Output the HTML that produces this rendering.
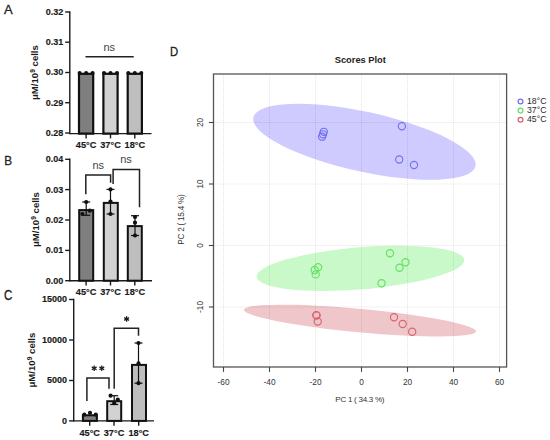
<!DOCTYPE html>
<html><head><meta charset="utf-8"><style>
html,body{margin:0;padding:0;background:#fff;}
svg{display:block;font-family:"Liberation Sans", sans-serif;}
</style></head><body>
<svg width="550" height="440" viewBox="0 0 550 440">
<rect width="550" height="440" fill="#fff"/>
<text transform="translate(4.00,13.75) scale(1.0,1)" font-size="13.0" fill="#222" stroke="#222" stroke-width="0.3">A</text>
<text transform="translate(4.20,164.70) scale(0.88,1)" font-size="13.4" fill="#222" stroke="#222" stroke-width="0.3">B</text>
<text transform="translate(4.00,300.00) scale(0.83,1)" font-size="14.0" fill="#222" stroke="#222" stroke-width="0.3">C</text>
<text transform="translate(170.00,56.10) scale(0.88,1)" font-size="12.8" fill="#222" stroke="#222" stroke-width="0.3">D</text>
<line x1="69.80" y1="11.30" x2="69.80" y2="134.30" stroke="#1a1a1a" stroke-width="1.4" />
<line x1="65.20" y1="12.00" x2="69.80" y2="12.00" stroke="#1a1a1a" stroke-width="1.4" />
<text x="63.20" y="14.90" font-size="9.0" text-anchor="end" font-weight="bold" fill="#1a1a1a" stroke="#1a1a1a" stroke-width="0.15">0.32</text>
<line x1="65.20" y1="42.20" x2="69.80" y2="42.20" stroke="#1a1a1a" stroke-width="1.4" />
<text x="63.20" y="45.10" font-size="9.0" text-anchor="end" font-weight="bold" fill="#1a1a1a" stroke="#1a1a1a" stroke-width="0.15">0.31</text>
<line x1="65.20" y1="72.50" x2="69.80" y2="72.50" stroke="#1a1a1a" stroke-width="1.4" />
<text x="63.20" y="75.40" font-size="9.0" text-anchor="end" font-weight="bold" fill="#1a1a1a" stroke="#1a1a1a" stroke-width="0.15">0.30</text>
<line x1="65.20" y1="102.70" x2="69.80" y2="102.70" stroke="#1a1a1a" stroke-width="1.4" />
<text x="63.20" y="105.60" font-size="9.0" text-anchor="end" font-weight="bold" fill="#1a1a1a" stroke="#1a1a1a" stroke-width="0.15">0.29</text>
<line x1="65.20" y1="133.00" x2="69.80" y2="133.00" stroke="#1a1a1a" stroke-width="1.4" />
<text x="63.20" y="135.90" font-size="9.0" text-anchor="end" font-weight="bold" fill="#1a1a1a" stroke="#1a1a1a" stroke-width="0.15">0.28</text>
<line x1="69.80" y1="133.60" x2="151.50" y2="133.60" stroke="#1a1a1a" stroke-width="1.4" />
<line x1="86.10" y1="133.60" x2="86.10" y2="138.40" stroke="#1a1a1a" stroke-width="1.4" />
<text x="86.10" y="148.30" font-size="9.2" text-anchor="middle" font-weight="bold" fill="#1a1a1a" stroke="#1a1a1a" stroke-width="0.15">45&#176;C</text>
<line x1="110.50" y1="133.60" x2="110.50" y2="138.40" stroke="#1a1a1a" stroke-width="1.4" />
<text x="110.50" y="148.30" font-size="9.2" text-anchor="middle" font-weight="bold" fill="#1a1a1a" stroke="#1a1a1a" stroke-width="0.15">37&#176;C</text>
<line x1="134.80" y1="133.60" x2="134.80" y2="138.40" stroke="#1a1a1a" stroke-width="1.4" />
<text x="134.80" y="148.30" font-size="9.2" text-anchor="middle" font-weight="bold" fill="#1a1a1a" stroke="#1a1a1a" stroke-width="0.15">18&#176;C</text>
<text transform="translate(38.00,72.60) rotate(-90)" font-size="9.5" font-weight="bold" fill="#1a1a1a" text-anchor="middle">&#956;M/10<tspan font-size="6.6" dy="-3.1" dx="0.3">9</tspan><tspan dy="3.1"> cells</tspan></text>
<rect x="79.00" y="73.8" width="14.2" height="59.80" fill="#7f7f7f" stroke="#111" stroke-width="2.2"/>
<circle cx="79.60" cy="73.0" r="2.0" fill="#111"/>
<circle cx="86.10" cy="73.0" r="2.0" fill="#111"/>
<circle cx="92.60" cy="73.0" r="2.0" fill="#111"/>
<rect x="103.40" y="73.8" width="14.2" height="59.80" fill="#d2d2d2" stroke="#111" stroke-width="2.2"/>
<circle cx="104.00" cy="73.0" r="2.0" fill="#111"/>
<circle cx="110.50" cy="73.0" r="2.0" fill="#111"/>
<circle cx="117.00" cy="73.0" r="2.0" fill="#111"/>
<rect x="127.70" y="73.8" width="14.2" height="59.80" fill="#bebebe" stroke="#111" stroke-width="2.2"/>
<circle cx="128.30" cy="73.0" r="2.0" fill="#111"/>
<circle cx="134.80" cy="73.0" r="2.0" fill="#111"/>
<circle cx="141.30" cy="73.0" r="2.0" fill="#111"/>
<line x1="85.50" y1="56.80" x2="133.70" y2="56.80" stroke="#222" stroke-width="1.6" />
<text x="109.20" y="51.00" font-size="11.0" text-anchor="middle" font-weight="normal" fill="#444" >ns</text>
<line x1="69.80" y1="158.60" x2="69.80" y2="281.40" stroke="#1a1a1a" stroke-width="1.4" />
<line x1="65.20" y1="159.30" x2="69.80" y2="159.30" stroke="#1a1a1a" stroke-width="1.4" />
<text x="63.20" y="162.20" font-size="9.0" text-anchor="end" font-weight="bold" fill="#1a1a1a" stroke="#1a1a1a" stroke-width="0.15">0.04</text>
<line x1="65.20" y1="189.60" x2="69.80" y2="189.60" stroke="#1a1a1a" stroke-width="1.4" />
<text x="63.20" y="192.50" font-size="9.0" text-anchor="end" font-weight="bold" fill="#1a1a1a" stroke="#1a1a1a" stroke-width="0.15">0.03</text>
<line x1="65.20" y1="220.00" x2="69.80" y2="220.00" stroke="#1a1a1a" stroke-width="1.4" />
<text x="63.20" y="222.90" font-size="9.0" text-anchor="end" font-weight="bold" fill="#1a1a1a" stroke="#1a1a1a" stroke-width="0.15">0.02</text>
<line x1="65.20" y1="250.40" x2="69.80" y2="250.40" stroke="#1a1a1a" stroke-width="1.4" />
<text x="63.20" y="253.30" font-size="9.0" text-anchor="end" font-weight="bold" fill="#1a1a1a" stroke="#1a1a1a" stroke-width="0.15">0.01</text>
<line x1="65.20" y1="280.70" x2="69.80" y2="280.70" stroke="#1a1a1a" stroke-width="1.4" />
<text x="63.20" y="283.60" font-size="9.0" text-anchor="end" font-weight="bold" fill="#1a1a1a" stroke="#1a1a1a" stroke-width="0.15">0.00</text>
<line x1="69.80" y1="280.70" x2="152.00" y2="280.70" stroke="#1a1a1a" stroke-width="1.4" />
<line x1="86.10" y1="280.70" x2="86.10" y2="285.50" stroke="#1a1a1a" stroke-width="1.4" />
<text x="86.10" y="295.20" font-size="9.2" text-anchor="middle" font-weight="bold" fill="#1a1a1a" stroke="#1a1a1a" stroke-width="0.15">45&#176;C</text>
<line x1="110.50" y1="280.70" x2="110.50" y2="285.50" stroke="#1a1a1a" stroke-width="1.4" />
<text x="110.50" y="295.20" font-size="9.2" text-anchor="middle" font-weight="bold" fill="#1a1a1a" stroke="#1a1a1a" stroke-width="0.15">37&#176;C</text>
<line x1="134.80" y1="280.70" x2="134.80" y2="285.50" stroke="#1a1a1a" stroke-width="1.4" />
<text x="134.80" y="295.20" font-size="9.2" text-anchor="middle" font-weight="bold" fill="#1a1a1a" stroke="#1a1a1a" stroke-width="0.15">18&#176;C</text>
<text transform="translate(38.80,219.60) rotate(-90)" font-size="9.5" font-weight="bold" fill="#1a1a1a" text-anchor="middle">&#956;M/10<tspan font-size="6.6" dy="-3.1" dx="0.3">9</tspan><tspan dy="3.1"> cells</tspan></text>
<rect x="79.20" y="210.10" width="14.0" height="70.60" fill="#7f7f7f" stroke="#111" stroke-width="2.0"/>
<rect x="103.80" y="202.90" width="14.0" height="77.80" fill="#d2d2d2" stroke="#111" stroke-width="2.0"/>
<rect x="127.80" y="226.10" width="14.0" height="54.60" fill="#bebebe" stroke="#111" stroke-width="2.0"/>
<line x1="86.20" y1="202.00" x2="86.20" y2="215.30" stroke="#111" stroke-width="1.2" />
<line x1="82.20" y1="202.00" x2="90.20" y2="202.00" stroke="#111" stroke-width="1.2" />
<line x1="82.20" y1="215.30" x2="90.20" y2="215.30" stroke="#111" stroke-width="1.2" />
<circle cx="86.20" cy="202.00" r="2.1" fill="#111"/>
<circle cx="82.40" cy="214.00" r="2.1" fill="#111"/>
<circle cx="89.80" cy="210.70" r="2.1" fill="#111"/>
<line x1="110.50" y1="189.40" x2="110.50" y2="214.00" stroke="#111" stroke-width="1.2" />
<line x1="106.50" y1="189.40" x2="114.50" y2="189.40" stroke="#111" stroke-width="1.2" />
<line x1="106.50" y1="214.00" x2="114.50" y2="214.00" stroke="#111" stroke-width="1.2" />
<circle cx="110.50" cy="189.40" r="2.1" fill="#111"/>
<circle cx="110.50" cy="201.50" r="2.1" fill="#111"/>
<circle cx="110.50" cy="214.00" r="2.1" fill="#111"/>
<line x1="135.00" y1="215.70" x2="135.00" y2="235.50" stroke="#111" stroke-width="1.2" />
<line x1="131.00" y1="215.70" x2="139.00" y2="215.70" stroke="#111" stroke-width="1.2" />
<line x1="131.00" y1="235.50" x2="139.00" y2="235.50" stroke="#111" stroke-width="1.2" />
<circle cx="135.00" cy="217.00" r="2.1" fill="#111"/>
<circle cx="135.00" cy="222.70" r="2.1" fill="#111"/>
<circle cx="135.00" cy="235.50" r="2.1" fill="#111"/>
<polyline points="85.8,194.3 85.8,174.9 110.6,174.9 110.6,182.7" fill="none" stroke="#222" stroke-width="1.5"/>
<polyline points="113.1,184.0 113.1,169.4 139.5,169.4 139.5,207.3" fill="none" stroke="#222" stroke-width="1.5"/>
<text x="98.20" y="169.40" font-size="11.0" text-anchor="middle" font-weight="normal" fill="#444" >ns</text>
<text x="126.00" y="163.30" font-size="11.0" text-anchor="middle" font-weight="normal" fill="#444" >ns</text>
<line x1="73.70" y1="298.80" x2="73.70" y2="421.60" stroke="#1a1a1a" stroke-width="1.4" />
<line x1="69.10" y1="299.50" x2="73.70" y2="299.50" stroke="#1a1a1a" stroke-width="1.4" />
<text x="67.10" y="302.40" font-size="9.0" text-anchor="end" font-weight="bold" fill="#1a1a1a" stroke="#1a1a1a" stroke-width="0.15">15000</text>
<line x1="69.10" y1="340.00" x2="73.70" y2="340.00" stroke="#1a1a1a" stroke-width="1.4" />
<text x="67.10" y="342.90" font-size="9.0" text-anchor="end" font-weight="bold" fill="#1a1a1a" stroke="#1a1a1a" stroke-width="0.15">10000</text>
<line x1="69.10" y1="380.50" x2="73.70" y2="380.50" stroke="#1a1a1a" stroke-width="1.4" />
<text x="67.10" y="383.40" font-size="9.0" text-anchor="end" font-weight="bold" fill="#1a1a1a" stroke="#1a1a1a" stroke-width="0.15">5000</text>
<line x1="69.10" y1="420.90" x2="73.70" y2="420.90" stroke="#1a1a1a" stroke-width="1.4" />
<text x="67.10" y="423.80" font-size="9.0" text-anchor="end" font-weight="bold" fill="#1a1a1a" stroke="#1a1a1a" stroke-width="0.15">0</text>
<line x1="73.70" y1="420.90" x2="154.00" y2="420.90" stroke="#1a1a1a" stroke-width="1.4" />
<line x1="89.70" y1="420.90" x2="89.70" y2="425.70" stroke="#1a1a1a" stroke-width="1.4" />
<text x="89.70" y="436.30" font-size="9.2" text-anchor="middle" font-weight="bold" fill="#1a1a1a" stroke="#1a1a1a" stroke-width="0.15">45&#176;C</text>
<line x1="114.00" y1="420.90" x2="114.00" y2="425.70" stroke="#1a1a1a" stroke-width="1.4" />
<text x="114.00" y="436.30" font-size="9.2" text-anchor="middle" font-weight="bold" fill="#1a1a1a" stroke="#1a1a1a" stroke-width="0.15">37&#176;C</text>
<line x1="138.70" y1="420.90" x2="138.70" y2="425.70" stroke="#1a1a1a" stroke-width="1.4" />
<text x="138.70" y="436.30" font-size="9.2" text-anchor="middle" font-weight="bold" fill="#1a1a1a" stroke="#1a1a1a" stroke-width="0.15">18&#176;C</text>
<text transform="translate(35.30,360.10) rotate(-90)" font-size="9.5" font-weight="bold" fill="#1a1a1a" text-anchor="middle">&#956;M/10<tspan font-size="6.6" dy="-3.1" dx="0.3">9</tspan><tspan dy="3.1"> cells</tspan></text>
<rect x="82.90" y="415.30" width="14.0" height="5.60" fill="#7f7f7f" stroke="#111" stroke-width="2.0"/>
<rect x="107.20" y="401.20" width="14.0" height="19.70" fill="#d2d2d2" stroke="#111" stroke-width="2.0"/>
<rect x="132.00" y="364.90" width="14.0" height="56.00" fill="#bebebe" stroke="#111" stroke-width="2.0"/>
<line x1="138.50" y1="343.00" x2="138.50" y2="383.20" stroke="#111" stroke-width="1.2" />
<line x1="134.50" y1="343.00" x2="142.50" y2="343.00" stroke="#111" stroke-width="1.2" />
<line x1="134.50" y1="383.20" x2="142.50" y2="383.20" stroke="#111" stroke-width="1.2" />
<circle cx="138.50" cy="343.00" r="2.1" fill="#111"/>
<circle cx="138.50" cy="363.40" r="2.1" fill="#111"/>
<circle cx="138.50" cy="383.20" r="2.1" fill="#111"/>
<line x1="114.20" y1="395.70" x2="114.20" y2="404.50" stroke="#111" stroke-width="1.2" />
<line x1="110.20" y1="395.70" x2="118.20" y2="395.70" stroke="#111" stroke-width="1.2" />
<line x1="110.20" y1="404.50" x2="118.20" y2="404.50" stroke="#111" stroke-width="1.2" />
<circle cx="110.60" cy="395.70" r="2.1" fill="#111"/>
<circle cx="117.80" cy="399.50" r="2.1" fill="#111"/>
<circle cx="114.20" cy="403.20" r="2.1" fill="#111"/>
<circle cx="90.00" cy="412.90" r="2.1" fill="#111"/>
<circle cx="84.30" cy="414.60" r="2.1" fill="#111"/>
<circle cx="95.80" cy="414.60" r="2.1" fill="#111"/>
<polyline points="86.9,401.0 86.9,377.9 109.0,377.9 109.0,388.8" fill="none" stroke="#222" stroke-width="1.5"/>
<polyline points="114.2,388.8 114.2,328.2 138.5,328.2 138.5,335.8" fill="none" stroke="#222" stroke-width="1.5"/>
<line x1="94.20" y1="365.50" x2="94.20" y2="371.10" stroke="#1a1a1a" stroke-width="1.25" />
<line x1="91.78" y1="366.90" x2="96.62" y2="369.70" stroke="#1a1a1a" stroke-width="1.25" />
<line x1="91.78" y1="369.70" x2="96.62" y2="366.90" stroke="#1a1a1a" stroke-width="1.25" />
<line x1="101.80" y1="365.50" x2="101.80" y2="371.10" stroke="#1a1a1a" stroke-width="1.25" />
<line x1="99.38" y1="366.90" x2="104.22" y2="369.70" stroke="#1a1a1a" stroke-width="1.25" />
<line x1="99.38" y1="369.70" x2="104.22" y2="366.90" stroke="#1a1a1a" stroke-width="1.25" />
<line x1="126.60" y1="316.20" x2="126.60" y2="321.80" stroke="#1a1a1a" stroke-width="1.25" />
<line x1="124.18" y1="317.60" x2="129.02" y2="320.40" stroke="#1a1a1a" stroke-width="1.25" />
<line x1="124.18" y1="320.40" x2="129.02" y2="317.60" stroke="#1a1a1a" stroke-width="1.25" />
<ellipse cx="364.40" cy="141.80" rx="113.70" ry="29.90" transform="rotate(12.40 364.40 141.80)" fill="#cfcbff"/>
<ellipse cx="360.50" cy="268.30" rx="104.20" ry="21.00" transform="rotate(-4.70 360.50 268.30)" fill="#c9f9c9"/>
<ellipse cx="360.00" cy="320.60" rx="116.60" ry="11.70" transform="rotate(5.35 360.00 320.60)" fill="#efc6ca"/>
<line x1="223.50" y1="74.00" x2="223.50" y2="367.00" stroke="#000" stroke-width="0.8" stroke-opacity="0.13" stroke-dasharray="1,1"/>
<line x1="269.50" y1="74.00" x2="269.50" y2="367.00" stroke="#000" stroke-width="0.8" stroke-opacity="0.13" stroke-dasharray="1,1"/>
<line x1="315.50" y1="74.00" x2="315.50" y2="367.00" stroke="#000" stroke-width="0.8" stroke-opacity="0.13" stroke-dasharray="1,1"/>
<line x1="361.50" y1="74.00" x2="361.50" y2="367.00" stroke="#000" stroke-width="0.8" stroke-opacity="0.13" stroke-dasharray="1,1"/>
<line x1="407.50" y1="74.00" x2="407.50" y2="367.00" stroke="#000" stroke-width="0.8" stroke-opacity="0.13" stroke-dasharray="1,1"/>
<line x1="453.50" y1="74.00" x2="453.50" y2="367.00" stroke="#000" stroke-width="0.8" stroke-opacity="0.13" stroke-dasharray="1,1"/>
<line x1="499.50" y1="74.00" x2="499.50" y2="367.00" stroke="#000" stroke-width="0.8" stroke-opacity="0.13" stroke-dasharray="1,1"/>
<line x1="213.50" y1="122.50" x2="506.60" y2="122.50" stroke="#000" stroke-width="0.8" stroke-opacity="0.13" stroke-dasharray="1,1"/>
<line x1="213.50" y1="184.00" x2="506.60" y2="184.00" stroke="#000" stroke-width="0.8" stroke-opacity="0.13" stroke-dasharray="1,1"/>
<line x1="213.50" y1="245.50" x2="506.60" y2="245.50" stroke="#000" stroke-width="0.8" stroke-opacity="0.13" stroke-dasharray="1,1"/>
<line x1="213.50" y1="307.00" x2="506.60" y2="307.00" stroke="#000" stroke-width="0.8" stroke-opacity="0.13" stroke-dasharray="1,1"/>
<circle cx="323.80" cy="131.80" r="3.6" fill="none" stroke="#7272ee" stroke-width="1.15"/>
<circle cx="323.00" cy="134.30" r="3.6" fill="none" stroke="#7272ee" stroke-width="1.15"/>
<circle cx="322.10" cy="136.70" r="3.6" fill="none" stroke="#7272ee" stroke-width="1.15"/>
<circle cx="401.90" cy="126.20" r="3.6" fill="none" stroke="#7272ee" stroke-width="1.15"/>
<circle cx="399.20" cy="159.50" r="3.6" fill="none" stroke="#7272ee" stroke-width="1.15"/>
<circle cx="414.00" cy="165.00" r="3.6" fill="none" stroke="#7272ee" stroke-width="1.15"/>
<circle cx="318.10" cy="267.30" r="3.6" fill="none" stroke="#62e262" stroke-width="1.15"/>
<circle cx="314.70" cy="270.00" r="3.6" fill="none" stroke="#62e262" stroke-width="1.15"/>
<circle cx="315.70" cy="274.40" r="3.6" fill="none" stroke="#62e262" stroke-width="1.15"/>
<circle cx="390.00" cy="253.20" r="3.6" fill="none" stroke="#62e262" stroke-width="1.15"/>
<circle cx="405.50" cy="262.30" r="3.6" fill="none" stroke="#62e262" stroke-width="1.15"/>
<circle cx="399.50" cy="267.70" r="3.6" fill="none" stroke="#62e262" stroke-width="1.15"/>
<circle cx="381.50" cy="283.20" r="3.6" fill="none" stroke="#62e262" stroke-width="1.15"/>
<circle cx="316.30" cy="315.10" r="3.6" fill="none" stroke="#d9646f" stroke-width="1.15"/>
<circle cx="316.60" cy="315.60" r="3.6" fill="none" stroke="#d9646f" stroke-width="1.15"/>
<circle cx="317.70" cy="321.50" r="3.6" fill="none" stroke="#d9646f" stroke-width="1.15"/>
<circle cx="394.00" cy="317.30" r="3.6" fill="none" stroke="#d9646f" stroke-width="1.15"/>
<circle cx="402.70" cy="324.00" r="3.6" fill="none" stroke="#d9646f" stroke-width="1.15"/>
<circle cx="412.20" cy="331.80" r="3.6" fill="none" stroke="#d9646f" stroke-width="1.15"/>
<rect x="213.50" y="74.00" width="293.10" height="293.00" fill="none" stroke="#555" stroke-width="1.3"/>
<line x1="223.50" y1="367.00" x2="223.50" y2="371.90" stroke="#444" stroke-width="1.1" />
<text x="223.50" y="384.50" font-size="8.3" text-anchor="middle" font-weight="normal" fill="#333" >-60</text>
<line x1="269.50" y1="367.00" x2="269.50" y2="371.90" stroke="#444" stroke-width="1.1" />
<text x="269.50" y="384.50" font-size="8.3" text-anchor="middle" font-weight="normal" fill="#333" >-40</text>
<line x1="315.50" y1="367.00" x2="315.50" y2="371.90" stroke="#444" stroke-width="1.1" />
<text x="315.50" y="384.50" font-size="8.3" text-anchor="middle" font-weight="normal" fill="#333" >-20</text>
<line x1="361.50" y1="367.00" x2="361.50" y2="371.90" stroke="#444" stroke-width="1.1" />
<text x="361.50" y="384.50" font-size="8.3" text-anchor="middle" font-weight="normal" fill="#333" >0</text>
<line x1="407.50" y1="367.00" x2="407.50" y2="371.90" stroke="#444" stroke-width="1.1" />
<text x="407.50" y="384.50" font-size="8.3" text-anchor="middle" font-weight="normal" fill="#333" >20</text>
<line x1="453.50" y1="367.00" x2="453.50" y2="371.90" stroke="#444" stroke-width="1.1" />
<text x="453.50" y="384.50" font-size="8.3" text-anchor="middle" font-weight="normal" fill="#333" >40</text>
<line x1="499.50" y1="367.00" x2="499.50" y2="371.90" stroke="#444" stroke-width="1.1" />
<text x="499.50" y="384.50" font-size="8.3" text-anchor="middle" font-weight="normal" fill="#333" >60</text>
<line x1="208.90" y1="122.50" x2="213.50" y2="122.50" stroke="#444" stroke-width="1.1" />
<text transform="translate(203.40,122.50) rotate(-90)" font-size="8.3" text-anchor="middle" fill="#333">20</text>
<line x1="208.90" y1="184.00" x2="213.50" y2="184.00" stroke="#444" stroke-width="1.1" />
<text transform="translate(203.40,184.00) rotate(-90)" font-size="8.3" text-anchor="middle" fill="#333">10</text>
<line x1="208.90" y1="245.50" x2="213.50" y2="245.50" stroke="#444" stroke-width="1.1" />
<text transform="translate(203.40,245.50) rotate(-90)" font-size="8.3" text-anchor="middle" fill="#333">0</text>
<line x1="208.90" y1="307.00" x2="213.50" y2="307.00" stroke="#444" stroke-width="1.1" />
<text transform="translate(203.40,307.00) rotate(-90)" font-size="8.3" text-anchor="middle" fill="#333">-10</text>
<text x="359.80" y="402.00" font-size="8.0" text-anchor="middle" font-weight="normal" fill="#333" letter-spacing="-0.25">PC 1 ( 34.3 %)</text>
<text transform="translate(183.80,219.60) rotate(-90)" font-size="8.2" text-anchor="middle" fill="#333" letter-spacing="-0.25">PC 2 ( 15.4 %)</text>
<text x="360.30" y="63.40" font-size="9.3" text-anchor="middle" font-weight="bold" fill="#222" >Scores Plot</text>
<circle cx="520.5" cy="101.50" r="2.4" fill="none" stroke="#7272ee" stroke-width="1.25"/>
<text x="527.00" y="104.10" font-size="8.7" text-anchor="start" font-weight="normal" fill="#2a2a2a" >18&#176;C</text>
<circle cx="520.5" cy="110.60" r="2.4" fill="none" stroke="#62e262" stroke-width="1.25"/>
<text x="527.00" y="113.20" font-size="8.7" text-anchor="start" font-weight="normal" fill="#2a2a2a" >37&#176;C</text>
<circle cx="520.5" cy="119.70" r="2.4" fill="none" stroke="#d9646f" stroke-width="1.25"/>
<text x="527.00" y="122.30" font-size="8.7" text-anchor="start" font-weight="normal" fill="#2a2a2a" >45&#176;C</text>
</svg>
</body></html>
